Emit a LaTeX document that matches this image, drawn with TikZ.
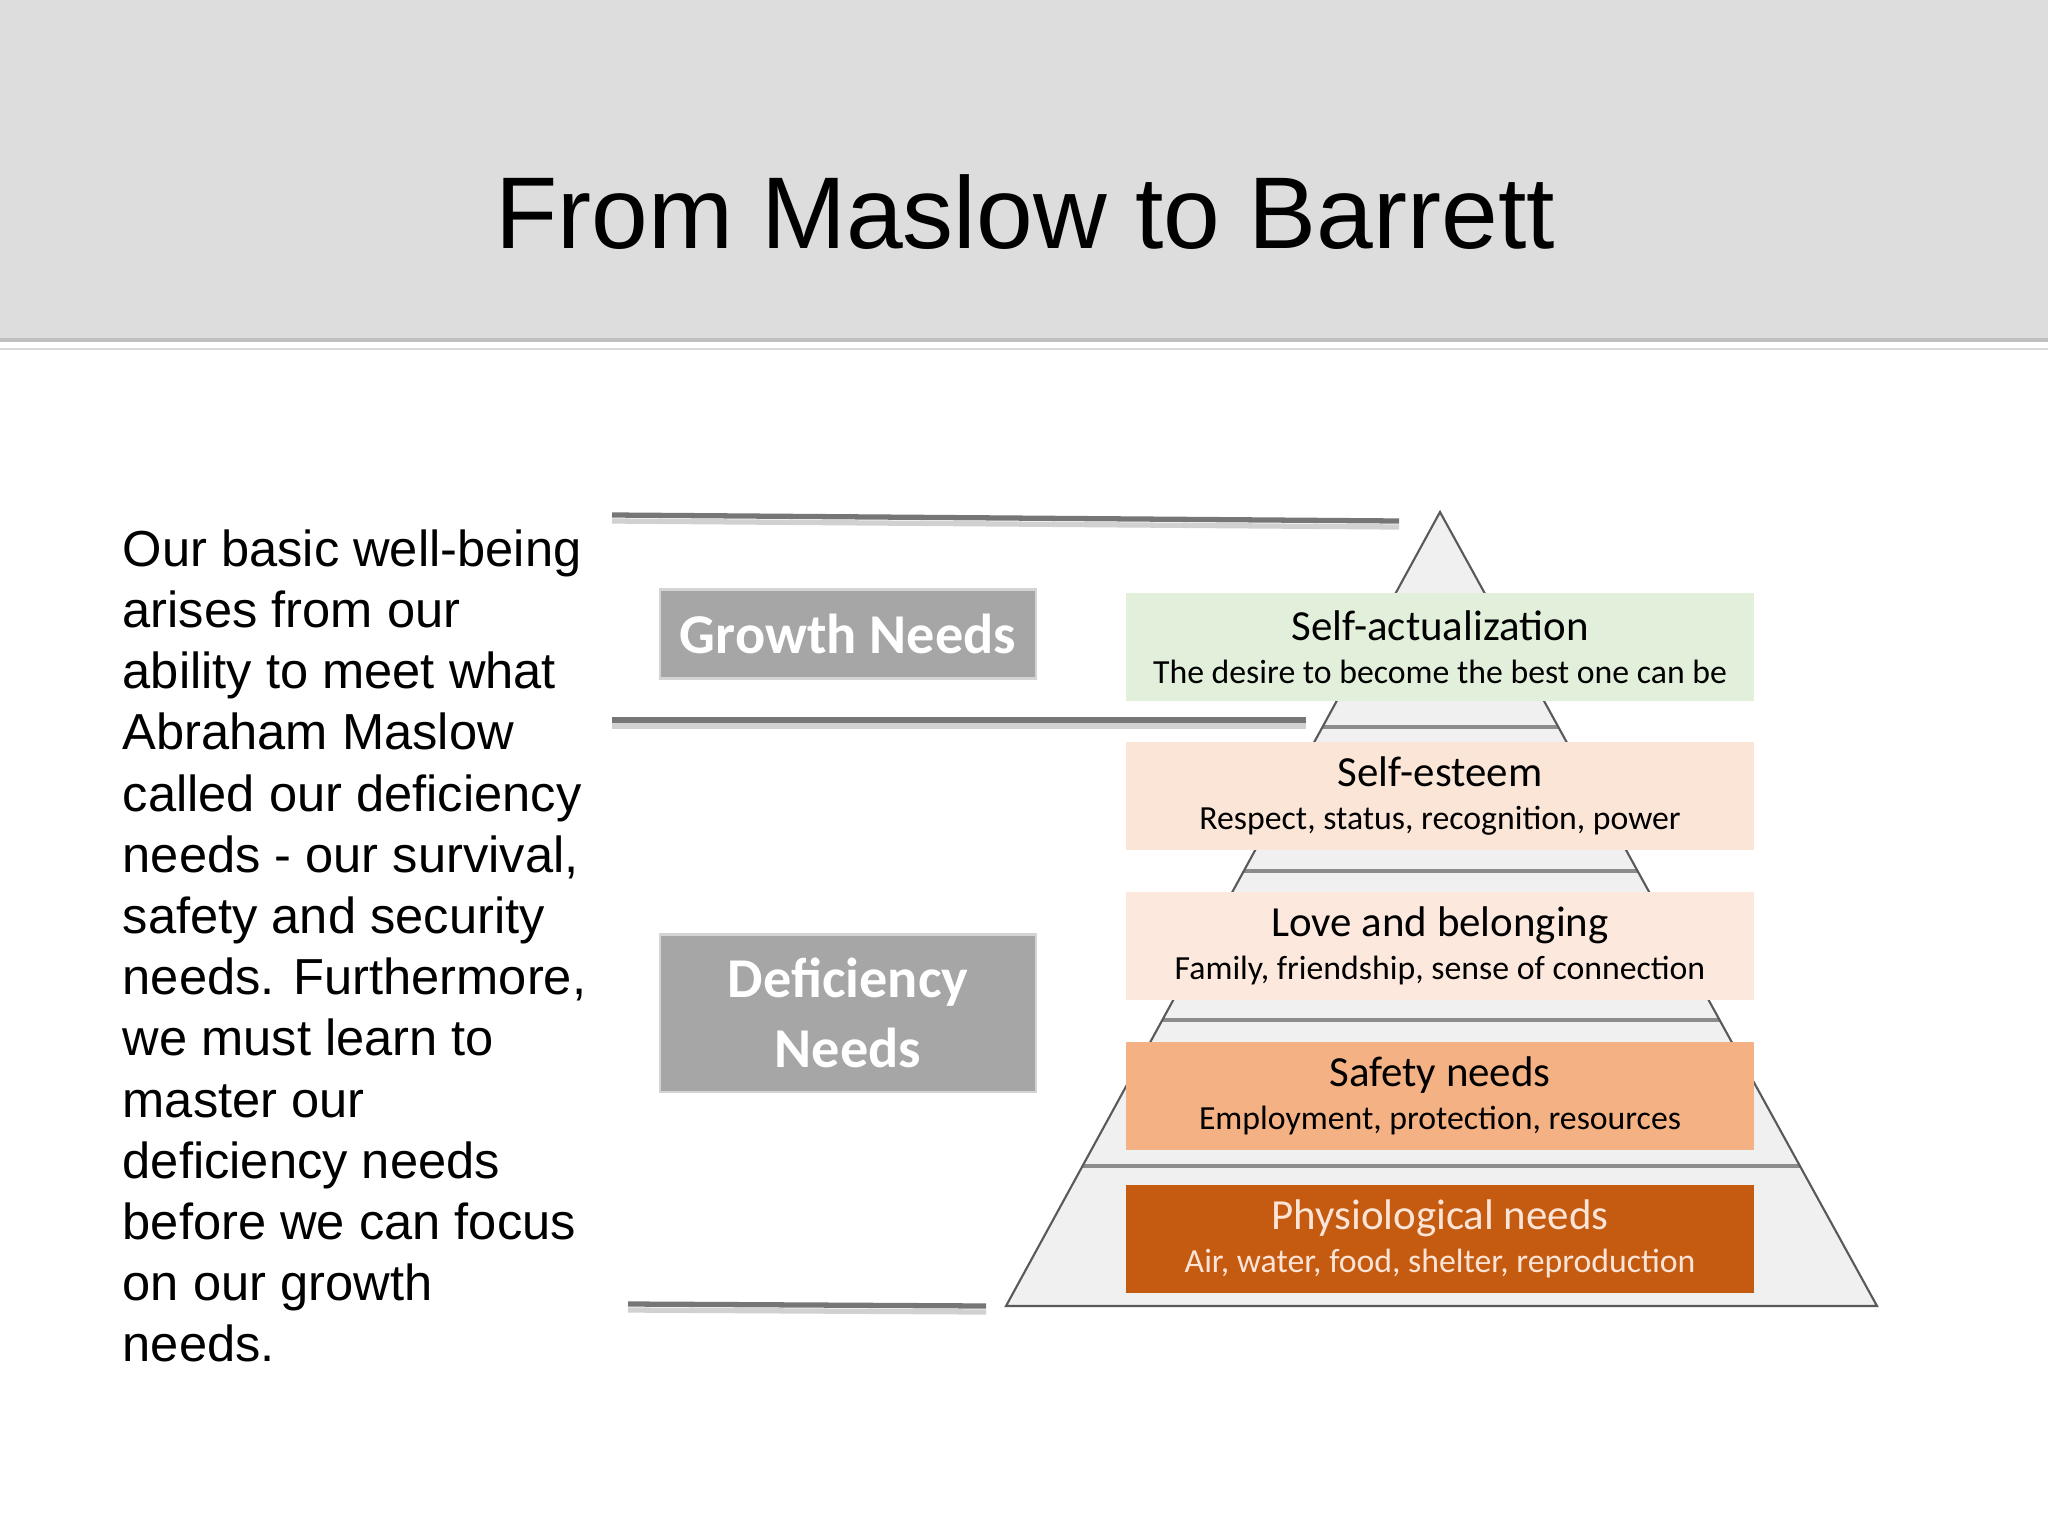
\documentclass[tikz,border=0pt]{standalone}
\usepackage{fontspec}
\setmainfont{Liberation Sans}
\newfontfamily\calibri{Carlito}
\usetikzlibrary{positioning}
\definecolor{bandgray}{HTML}{DDDDDD}
\definecolor{needgray}{HTML}{A6A6A6}
\definecolor{neededge}{HTML}{D4D4D4}
\definecolor{linegray}{HTML}{767676}
\definecolor{pyrfill}{HTML}{F0F0F0}
\definecolor{sagreen}{HTML}{E2EFDA}
\definecolor{sepeach}{HTML}{FBE5D6}
\definecolor{lbpeach}{HTML}{FCE8DC}
\definecolor{sforange}{HTML}{F4B183}
\definecolor{phorange}{HTML}{C55A11}
\definecolor{phtext}{HTML}{FCE4D6}
\newcommand\lvlsubfont{\fontsize{9.6}{12.1}\selectfont}
\tikzset{
  bracketline/.style={line width=1.5pt, draw=linegray},
  bracketshade/.style={line width=1.5pt, draw=black!18},
  needbox/.style={fill=needgray, draw=neededge, line width=0.6pt, text=white, align=center,
    inner sep=0pt, minimum width=3.75cm, font=\calibri\bfseries\fontsize{16}{19.7}\selectfont},
  lvl/.style={minimum width=6.27cm, minimum height=1.08cm, inner sep=0pt, align=center,
    font=\calibri\fontsize{12.2}{12.1}\selectfont},
}

\begin{document}
\begin{tikzpicture}[x=0.01cm, y=-0.01cm]
  \useasboundingbox (0,0) rectangle (2048,1536);

  % header band
  \fill[bandgray] (0,0) rectangle (2048,338);
  \fill[black!25] (0,338) rectangle (2048,342);
  \draw[black!15, line width=0.6pt] (0,349) -- (2048,349);
  \node[font=\fontsize{29}{34}\selectfont, anchor=base] (title) at (1025,248) {From Maslow to Barrett};

  % body text
  \node[anchor=north west, align=left, inner sep=0pt, font=\fontsize{14.4}{17.4}\selectfont] (body) at (122,529)
    {Our basic well-being\\arises from our\\ability to meet what\\Abraham Maslow\\called our deficiency\\needs - our survival,\\safety and security\\needs. Furthermore,\\we must learn to\\master our\\deficiency needs\\before we can focus\\on our growth\\needs.};

  % pyramid
  \coordinate (apex) at (1440,512);
  \coordinate (bl) at (1006,1306);
  \coordinate (br) at (1877,1306);
  \fill[pyrfill] (apex) -- (br) -- (bl) -- cycle;
  \begin{scope}
    \clip (apex) -- (br) -- (bl) -- cycle;
    \foreach \yy in {727,871,1020,1166}
      \draw[black!45, line width=1.1pt] (990,\yy) -- (1890,\yy);
  \end{scope}
  \draw[black!65, line width=0.6pt] (apex) -- (br) -- (bl) -- cycle;

  % levels
  \node[lvl, fill=sagreen] (sa) at (1440,647) {Self-actualization\\{\lvlsubfont The desire to become the best one can be}};
  \node[lvl, fill=sepeach] (se) at (1440,796) {Self-esteem\\{\lvlsubfont Respect, status, recognition, power}};
  \node[lvl, fill=lbpeach] (lb) at (1440,946) {Love and belonging\\{\lvlsubfont Family, friendship, sense of connection}};
  \node[lvl, fill=sforange] (sf) at (1440,1096) {Safety needs\\{\lvlsubfont Employment, protection, resources}};
  \node[lvl, fill=phorange, text=phtext] (ph) at (1440,1239) {Physiological needs\\{\lvlsubfont Air, water, food, shelter, reproduction}};

  % brackets
  \draw[bracketshade] (612,521) -- (1399,527);
  \draw[bracketline] (612,515) -- (1399,521);
  \draw[bracketshade] (612,726) -- (1306,726);
  \draw[bracketline] (612,720) -- (1306,720);
  \draw[bracketshade] (628,1310) -- (986,1312);
  \draw[bracketline] (628,1304) -- (986,1306);

  \node[needbox, minimum height=0.89cm] (growth) at (848,634) {Growth Needs};
  \node[needbox, minimum height=1.57cm] (deficiency) at (848,1013) {Deficiency\\Needs};
\end{tikzpicture}
\end{document}
